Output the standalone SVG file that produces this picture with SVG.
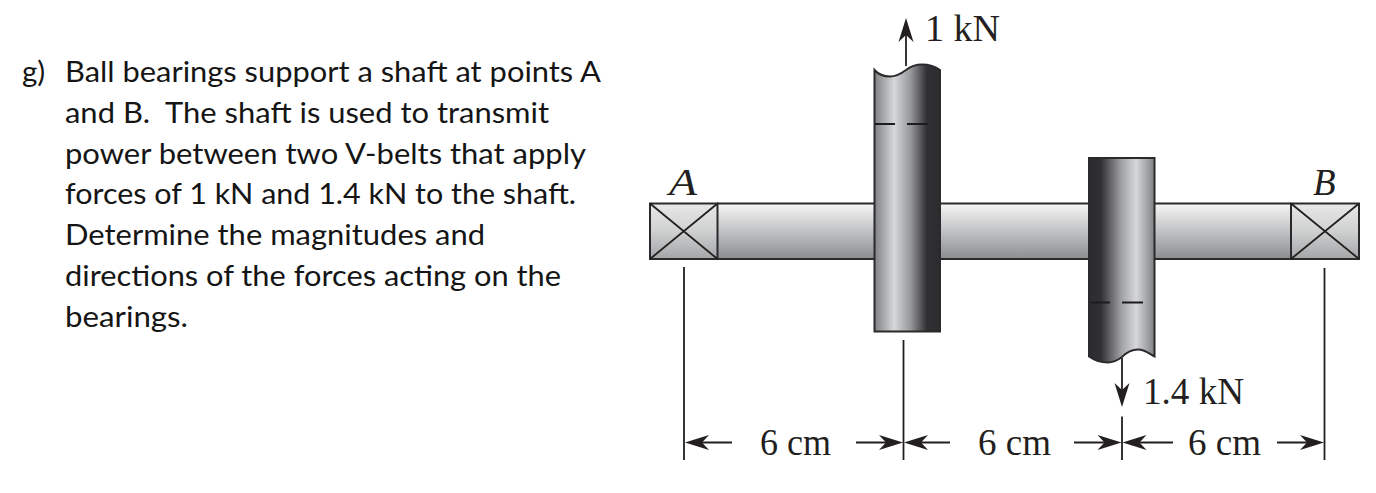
<svg xmlns="http://www.w3.org/2000/svg" width="1376" height="493" viewBox="0 0 1376 493">
<style>
.q{font-family:"Lato","Open Sans",sans-serif;font-size:29.5px;fill:#151515;white-space:pre}
.l{font-family:"Liberation Serif",serif;font-size:38px;fill:#231f20}
.d{font-family:"Liberation Serif",serif;font-size:37px;fill:#231f20}
.i{font-family:"Liberation Serif",serif;font-size:37px;font-style:italic;fill:#231f20}
.o{stroke:#2a2a2c;stroke-width:2;fill:none}
.t{stroke:#231f20;stroke-width:1.8;fill:none}
.h{fill:#231f20;stroke:none}
</style>
<defs>
<linearGradient id="gs" x1="0" y1="0" x2="0" y2="1"><stop offset="0" stop-color="#f6f6f6"/><stop offset=".4" stop-color="#cbcccd"/><stop offset="1" stop-color="#8c8d8f"/></linearGradient>
<linearGradient id="gb" x1="0" y1="0" x2="0" y2="1"><stop offset="0" stop-color="#e8e8e8"/><stop offset=".5" stop-color="#cfd0d0"/><stop offset="1" stop-color="#a4a5a7"/></linearGradient>
<linearGradient id="g1" x1="0" y1="0" x2="1" y2="0"><stop offset="0" stop-color="#808183"/><stop offset=".3" stop-color="#d6d7d9"/><stop offset=".55" stop-color="#97989a"/><stop offset=".8" stop-color="#303032"/><stop offset="1" stop-color="#2c2c2e"/></linearGradient>
<linearGradient id="g2" x1="0" y1="0" x2="1" y2="0"><stop offset="0" stop-color="#2c2c2e"/><stop offset=".18" stop-color="#303032"/><stop offset=".5" stop-color="#a2a3a5"/><stop offset=".72" stop-color="#d6d7d9"/><stop offset="1" stop-color="#808183"/></linearGradient>
<path id="ar" class="h" d="M0 0L-24 -7.500L-17 0L-24 7.500Z"/>
</defs>

<g id="question">
<text class="q" x="22" y="82">g)</text>
<text class="q" x="65" y="82" textLength="536" lengthAdjust="spacingAndGlyphs">Ball bearings support a shaft at points A</text>
<text class="q" x="65" y="123" textLength="484" lengthAdjust="spacingAndGlyphs">and B.  The shaft is used to transmit</text>
<text class="q" x="65" y="164" textLength="521" lengthAdjust="spacingAndGlyphs">power between two V-belts that apply</text>
<text class="q" x="65" y="204" textLength="511" lengthAdjust="spacingAndGlyphs">forces of 1 kN and 1.4 kN to the shaft.</text>
<text class="q" x="65" y="245" textLength="420" lengthAdjust="spacingAndGlyphs">Determine the magnitudes and</text>
<text class="q" x="65" y="286" textLength="496" lengthAdjust="spacingAndGlyphs">directions of the forces acting on the</text>
<text class="q" x="65" y="327" textLength="123" lengthAdjust="spacingAndGlyphs">bearings.</text>
</g>

<g id="shaft">
<rect x="717" y="203.500" width="574" height="55.500" fill="url(#gs)"/>
<path class="o" d="M717 203.500H1291M717 259H1291"/>
</g>

<g id="bearing-a">
<rect class="o" x="650" y="203.500" width="67.500" height="55.500" style="fill:url(#gb)"/>
<path class="t" d="M650 203.500L717.500 259M717.500 203.500L650 259"/>
<text class="i" x="669" y="195" textLength="28" lengthAdjust="spacingAndGlyphs">A</text>
</g>

<g id="bearing-b">
<rect class="o" x="1291" y="203.500" width="68" height="55.500" style="fill:url(#gb)"/>
<path class="t" d="M1291 203.500L1359 259M1359 203.500L1291 259"/>
<text class="i" x="1313" y="195">B</text>
</g>

<g id="belt-1">
<path d="M874.500 70C878 74 884 76.500 890 76.500C897 76.500 902 73 906 70C911 66 916 64.500 922 64.500C929 64.500 936 67 940 70V331.500H874.500Z" fill="url(#g1)" stroke="#2a2a2c" stroke-width="2"/>
<path d="M875 124H895M907 124H928" stroke="#1c1c1e" stroke-width="2" fill="none"/>
</g>

<g id="belt-2">
<path d="M1089 158H1154.500V356.500C1150 354 1145 349.500 1138 349.500C1131 349.500 1126 353 1122 357C1118 360 1114 362.500 1108 362.500C1100 362.500 1094 360 1089 356.500Z" fill="url(#g2)" stroke="#2a2a2c" stroke-width="2"/>
<path d="M1091 302.500H1110M1122 302.500H1143" stroke="#1c1c1e" stroke-width="2" fill="none"/>
</g>

<g id="connectors">
<path class="t" d="M906 66V30"/>
<use href="#ar" transform="translate(906 18) rotate(-90)"/>
<path class="t" d="M1122 358V395"/>
<use href="#ar" transform="translate(1122 407) rotate(90)"/>
<path class="t" d="M684 267V460M903.500 340V460M1122 416.500V460M1324.500 268V460"/>
<path class="t" d="M690 442.500H732M856 442.500H897M910 442.500H950M1074 442.500H1116M1128 442.500H1173M1277 442.500H1318"/>
<use href="#ar" transform="translate(685 442.500) rotate(180)"/>
<use href="#ar" transform="translate(903 442.500)"/>
<use href="#ar" transform="translate(904 442.500) rotate(180)"/>
<use href="#ar" transform="translate(1121.500 442.500)"/>
<use href="#ar" transform="translate(1122.500 442.500) rotate(180)"/>
<use href="#ar" transform="translate(1324 442.500)"/>
</g>

<g id="labels">
<text class="l" x="925" y="41" textLength="75" lengthAdjust="spacingAndGlyphs">1 kN</text>
<text class="l" x="1143" y="404" textLength="101" lengthAdjust="spacingAndGlyphs">1.4 kN</text>
<text class="d" x="760" y="455" textLength="71" lengthAdjust="spacingAndGlyphs">6 cm</text>
<text class="d" x="978" y="455" textLength="73" lengthAdjust="spacingAndGlyphs">6 cm</text>
<text class="d" x="1188" y="455" textLength="73" lengthAdjust="spacingAndGlyphs">6 cm</text>
</g>
</svg>
